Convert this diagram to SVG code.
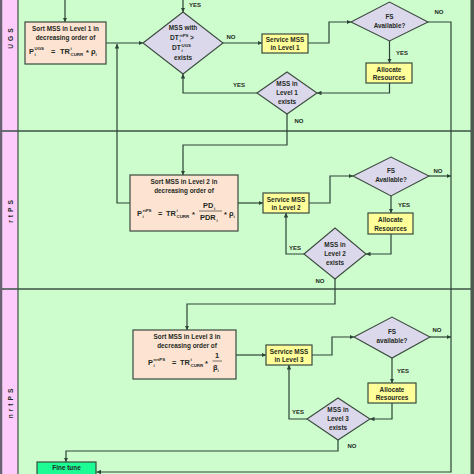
<svg xmlns="http://www.w3.org/2000/svg" width="474" height="474" viewBox="0 0 474 474">
<defs>
<marker id="ah" viewBox="0 0 6 6" refX="6" refY="3" markerWidth="4.5" markerHeight="4.5" orient="auto" markerUnits="userSpaceOnUse">
<path d="M0,0 L6,3 L0,6 z" fill="#2c4436"/>
</marker>
<style>
.ln{fill:none;stroke:#2c4436;stroke-width:1.2;marker-end:url(#ah)}
.box{stroke:#3a4a3e;stroke-width:1.2}
.sort{fill:#fce3d2}
.yel{fill:#ffff99}
.dia{fill:#dcd8ec;stroke:#3a4a3e;stroke-width:1.1}
text{font-family:"Liberation Sans",Arial,sans-serif;font-weight:bold;fill:#1e2a22}
.t{font-size:6.4px;text-anchor:middle}
.lb{font-size:6px;text-anchor:middle}
.f{font-size:7.4px}
.s{font-size:4.4px}
.ln2{font-size:6.6px;letter-spacing:3px}
</style>
</defs>
<g id="frame">
<rect x="0" y="0" width="474" height="474" fill="#cdfccd"/>
<rect x="0" y="0" width="2.5" height="474" fill="#6e5f78"/>
<rect x="2.5" y="0" width="15.5" height="474" fill="#fdccfd"/>
<line x1="18" y1="0" x2="18" y2="474" stroke="#3d5245" stroke-width="1.2"/>
<rect x="470.5" y="0" width="3.5" height="474" fill="#4d5a50"/>
<line x1="2" y1="131" x2="471" y2="131" stroke="#3d5245" stroke-width="1.3"/>
<line x1="2" y1="289" x2="471" y2="289" stroke="#3d5245" stroke-width="1.3"/>
<text class="ln2" transform="translate(12.5,37) rotate(-90)" text-anchor="middle">UGS</text>
<text class="ln2" transform="translate(12.5,210) rotate(-90)" text-anchor="middle">rtPS</text>
<text class="ln2" transform="translate(12.5,402) rotate(-90)" text-anchor="middle">nrtPS</text>
</g>
<g id="connectors">
<path class="ln" d="M65,0 V22"/>
<path class="ln" d="M183,0 V12"/>
<path class="ln" d="M106,43 H143"/>
<path class="ln" d="M130,203 H117 V44"/>
<path class="ln" d="M223,43 H262"/>
<path class="ln" d="M308,43 H329 V22 H351"/>
<path class="ln" d="M428,22 H451 V472 H96.5"/>
<path class="ln" d="M389.5,41 V63"/>
<path class="ln" d="M389.5,83 V93 H317"/>
<path class="ln" d="M257,93 H183 V74"/>
<path class="ln" d="M287,114 V145 H183 V175"/>
<path class="ln" d="M238,203 H263"/>
<path class="ln" d="M309,203 H330 V176 H353"/>
<path class="ln" d="M429,176 H451"/>
<path class="ln" d="M391,196 V213"/>
<path class="ln" d="M391,234 V254 H366"/>
<path class="ln" d="M304,254 H286 V213"/>
<path class="ln" d="M335,279 V304 H187 V330"/>
<path class="ln" d="M236,355 H266"/>
<path class="ln" d="M312,355 H332 V337 H354"/>
<path class="ln" d="M430,337 H451"/>
<path class="ln" d="M392,358 V383"/>
<path class="ln" d="M392,403 V419 H370"/>
<path class="ln" d="M307,419 H289 V365"/>
<path class="ln" d="M338,440 V451 H66 V462"/>
<text class="lb" x="195" y="7">YES</text>
<text class="lb" x="231" y="39">NO</text>
<text class="lb" x="439" y="14">NO</text>
<text class="lb" x="402" y="55">YES</text>
<text class="lb" x="239" y="87">YES</text>
<text class="lb" x="299" y="123">NO</text>
<text class="lb" x="438" y="173">NO</text>
<text class="lb" x="404" y="207">YES</text>
<text class="lb" x="295" y="250">YES</text>
<text class="lb" x="320" y="283">NO</text>
<text class="lb" x="437" y="332">NO</text>
<text class="lb" x="403" y="373">YES</text>
<text class="lb" x="298" y="414">YES</text>
<text class="lb" x="352" y="448">NO</text>
</g>
<g id="sort1">
<rect class="box sort" x="25" y="22" width="81" height="42"/>
<text class="t" x="65.5" y="31">Sort MSS in Level 1 in</text>
<text class="t" x="65.5" y="40">decreasing order of</text>
<text class="f" x="29" y="54">P</text>
<text class="s" x="34.5" y="50">UGS</text>
<text class="s" x="34.5" y="56">i</text>
<text class="f" x="51" y="54">=</text>
<text class="f" x="60" y="54">TR</text>
<text class="s" x="70.5" y="50">i</text>
<text class="s" x="70.5" y="56">CURR</text>
<text class="f" x="86" y="55">*</text>
<text class="f" x="91" y="54">ρ</text>
<text class="s" x="95.5" y="56">i</text>
</g>
<g id="dec1">
<polygon class="dia" points="143,43 183,12 223,43 183,74"/>
<text class="t" x="183" y="30">MSS with</text>
<text class="f" x="170" y="40" style="font-size:6.6px">DT</text>
<text class="s" x="179.5" y="36.5">rtPS</text>
<text class="s" x="179.5" y="41.5">i</text>
<text class="f" x="190" y="40" style="font-size:6.6px">&gt;</text>
<text class="f" x="172" y="50" style="font-size:6.6px">DT</text>
<text class="s" x="181.5" y="46.5">UGS</text>
<text class="s" x="181.5" y="51.5">i</text>
<text class="t" x="183" y="60">exists</text>
</g>
<g id="svc1">
<rect class="box yel" x="262" y="34" width="46" height="19"/>
<text class="t" x="285" y="42">Service MSS</text>
<text class="t" x="285" y="50">in Level 1</text>
</g>
<g id="fs1">
<polygon class="dia" points="351,22 389.5,2 428,22 389.5,41"/>
<text class="t" x="389.5" y="19">FS</text>
<text class="t" x="389.5" y="28">Available?</text>
</g>
<g id="alloc1">
<rect class="box yel" x="366" y="63" width="46" height="20"/>
<text class="t" x="389" y="71.5">Allocate</text>
<text class="t" x="389" y="80">Resources</text>
</g>
<g id="mss1">
<polygon class="dia" points="257,93 287,72 317,93 287,114"/>
<text class="t" x="287" y="86">MSS in</text>
<text class="t" x="287" y="95">Level 1</text>
<text class="t" x="287" y="104">exists</text>
</g>
<g id="sort2">
<rect class="box sort" x="130" y="175" width="108" height="56"/>
<text class="t" x="184" y="184">Sort MSS in Level 2 in</text>
<text class="t" x="184" y="193">decreasing order of</text>
<text class="f" x="137" y="216">P</text>
<text class="s" x="142.5" y="212">rtPS</text>
<text class="s" x="142.5" y="218">i</text>
<text class="f" x="158" y="216">=</text>
<text class="f" x="166" y="216">TR</text>
<text class="s" x="176.5" y="212">i</text>
<text class="s" x="176.5" y="218">CURR</text>
<text class="f" x="192" y="217">*</text>
<text class="f" x="203" y="208">PD</text>
<text class="s" x="214" y="210">i</text>
<line x1="199" y1="211" x2="222" y2="211" stroke="#1e2a22" stroke-width="0.6"/>
<text class="f" x="200" y="220">PDR</text>
<text class="s" x="216.5" y="222">i</text>
<text class="f" x="224" y="217">*</text>
<text class="f" x="229" y="216">ρ</text>
<text class="s" x="233.5" y="218">i</text>
</g>
<g id="svc2">
<rect class="box yel" x="263" y="193" width="46" height="20"/>
<text class="t" x="286" y="201.5">Service MSS</text>
<text class="t" x="286" y="210">in Level 2</text>
</g>
<g id="fs2">
<polygon class="dia" points="353,176 391,157 429,176 391,196"/>
<text class="t" x="391" y="173">FS</text>
<text class="t" x="391" y="182">Available?</text>
</g>
<g id="alloc2">
<rect class="box yel" x="368" y="213" width="45" height="21"/>
<text class="t" x="390.5" y="222">Allocate</text>
<text class="t" x="390.5" y="230.5">Resources</text>
</g>
<g id="mss2">
<polygon class="dia" points="304,254 335,228 366,254 335,279"/>
<text class="t" x="335" y="247">MSS in</text>
<text class="t" x="335" y="256">Level 2</text>
<text class="t" x="335" y="265">exists</text>
</g>
<g id="sort3">
<rect class="box sort" x="133" y="330" width="103" height="49"/>
<text class="t" x="187" y="339">Sort MSS in Level 3 in</text>
<text class="t" x="187" y="348">decreasing order of</text>
<text class="f" x="148" y="365">P</text>
<text class="s" x="153.5" y="361">nrtPS</text>
<text class="s" x="153.5" y="367">i</text>
<text class="f" x="172" y="365">=</text>
<text class="f" x="180" y="365">TR</text>
<text class="s" x="190.5" y="361">i</text>
<text class="s" x="190.5" y="367">CURR</text>
<text class="f" x="205" y="366">*</text>
<text class="f" x="215" y="358">1</text>
<line x1="212.5" y1="361" x2="222" y2="361" stroke="#1e2a22" stroke-width="0.6"/>
<text class="f" x="213" y="370">β</text>
<text class="s" x="217.5" y="372">i</text>
</g>
<g id="svc3">
<rect class="box yel" x="266" y="345" width="46" height="20"/>
<text class="t" x="289" y="353.5">Service MSS</text>
<text class="t" x="289" y="362">in Level 3</text>
</g>
<g id="fs3">
<polygon class="dia" points="354,337 392,317 430,337 392,358"/>
<text class="t" x="392" y="334">FS</text>
<text class="t" x="392" y="343">available?</text>
</g>
<g id="alloc3">
<rect class="box yel" x="368" y="383" width="48" height="20"/>
<text class="t" x="392" y="391.5">Allocate</text>
<text class="t" x="392" y="400">Resources</text>
</g>
<g id="mss3">
<polygon class="dia" points="307,419 338,398 370,419 338,440"/>
<text class="t" x="338" y="412">MSS in</text>
<text class="t" x="338" y="421">Level 3</text>
<text class="t" x="338" y="430">exists</text>
</g>
<g id="finetune">
<rect class="box" x="37" y="462" width="59" height="14" fill="#1dfc94"/>
<text class="t" x="66.5" y="469.5">Fine tune</text>
</g>
</svg>
